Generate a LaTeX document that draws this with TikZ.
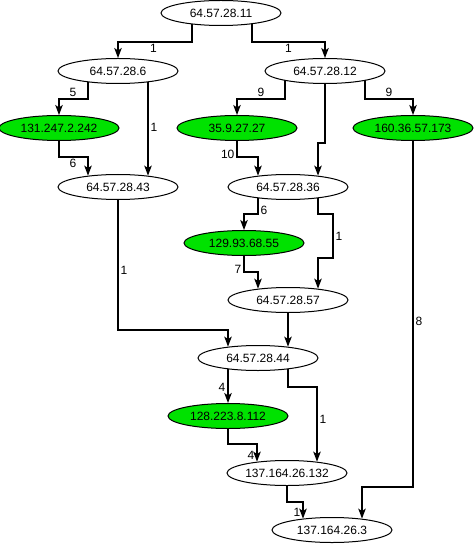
\documentclass[tikz,border=0pt]{standalone}
\usepackage{fontspec}
\setmainfont{Liberation Sans}
\usepackage{tikz}
\usetikzlibrary{arrows.meta,shapes.geometric,backgrounds}

\definecolor{hitgreen}{RGB}{0,226,0}

\tikzset{
    host/.style={ellipse, draw, line width=1pt, fill=white, inner sep=0pt,
                 minimum width=120pt, minimum height=25pt},
    hit/.style={host, fill=hitgreen},
    link/.style={line width=1.2pt, -{Stealth[length=10pt,width=7.5pt,inset=2.5pt]}},
    deep/.style={shorten >=-1.6pt},
    lbl/.style={inner sep=2pt}
}

\begin{document}
\begin{tikzpicture}[x=1pt, y=-1pt, font=\fontsize{12}{14}\selectfont]
    \useasboundingbox (0,0) rectangle (474,545);

    \foreach \n/\x/\y/\t in {n11/221/13/64.57.28.11, n6/118/71/64.57.28.6,
        n12/325/71/64.57.28.12, n43/118/187/64.57.28.43, n36/288/187/64.57.28.36,
        n57/288/300/64.57.28.57, n44/258/358/64.57.28.44,
        n132/287/473/137.164.26.132, n3/332/530/137.164.26.3}{
        \node[host] (\n) at (\x,\y) {\t};
    }
    \foreach \n/\x/\y/\t in {g131/59/128/131.247.2.242, g35/237/128/35.9.27.27,
        g160/413/128/160.36.57.173, g129/244/243/129.93.68.55,
        g128/228/416/128.223.8.112}{
        \node[hit] (\n) at (\x,\y) {\t};
    }

    \begin{scope}[on background layer]
    \draw[link] ([xshift=-29pt]n11.center) -- ++(0,29) -| node[lbl,pos=0.26,below]{1} (n6.north);
    \draw[link] ([xshift=31pt]n11.center) -- ++(0,29) -| node[lbl,pos=0.25,below]{1} (n12.north);

    \draw[link] ([xshift=-30pt]n6.center) -- ++(0,28) -| node[lbl,pos=0.26,above]{5} (g131.north);
    \draw[link,deep] ([xshift=30pt]n6.center) -- node[lbl,pos=0.55,right]{1} ([xshift=30pt]n43.north);
    \draw[link,deep] (g131.center) -- ++(0,29) -| node[lbl,pos=0.24,below]{6} ([xshift=-30pt]n43.north);

    \draw[link] ([xshift=-40pt]n12.center) -- ++(0,28) -| node[lbl,pos=0.25,above]{9} (g35.north);
    \draw[link] ([xshift=40pt]n12.center) -- ++(0,28) -| node[lbl,pos=0.25,above]{9} (g160.north);
    \draw[link,deep] (n12.center) -- ++(0,72) -| ([xshift=30pt]n36.north);
    \draw[link,deep] (g35.center) -- ++(0,29) node[lbl,pos=0.9,left]{10} -| ([xshift=-30pt]n36.north);

    \draw[link] ([xshift=-30pt]n36.center) -- ++(0,27) node[lbl,pos=0.88,right]{6} -| (g129.north);
    \draw[link,deep] ([xshift=30pt]n36.center) -- ++(0,27) -- ++(15,0)
        -- ++(0,44) node[lbl,midway,right]{1} -- ++(-15,0) -- ([xshift=30pt]n57.north);
    \draw[link,deep] (g129.center) -- ++(0,29) node[lbl,pos=0.9,left]{7} -| ([xshift=-30pt]n57.north);

    \draw[link,deep] (n43.center) -- ++(0,143) node[lbl,pos=0.58,right]{1} -| ([xshift=-30pt]n44.north);
    \draw[link,deep] (n57.center) -- ([xshift=30pt]n44.north);
    \draw[link,deep] (g160.center) -- ++(0,359) node[lbl,pos=0.54,right]{8} -| ([xshift=30pt]n3.north);

    \draw[link] ([xshift=-30pt]n44.center) -- node[lbl,pos=0.65,left]{4} (g128.north);
    \draw[link,deep] ([xshift=30pt]n44.center) -- ++(0,29) -| node[lbl,pos=0.72,right]{1} ([xshift=30pt]n132.north);
    \draw[link,deep] (g128.center) -- ++(0,28) -| node[lbl,pos=0.85,left]{4} ([xshift=-30pt]n132.north);
    \draw[link,deep] (n132.center) -- ++(0,29) -| node[lbl,pos=0.85,left]{1} ([xshift=-29pt]n3.north);
    \end{scope}
\end{tikzpicture}
\end{document}
